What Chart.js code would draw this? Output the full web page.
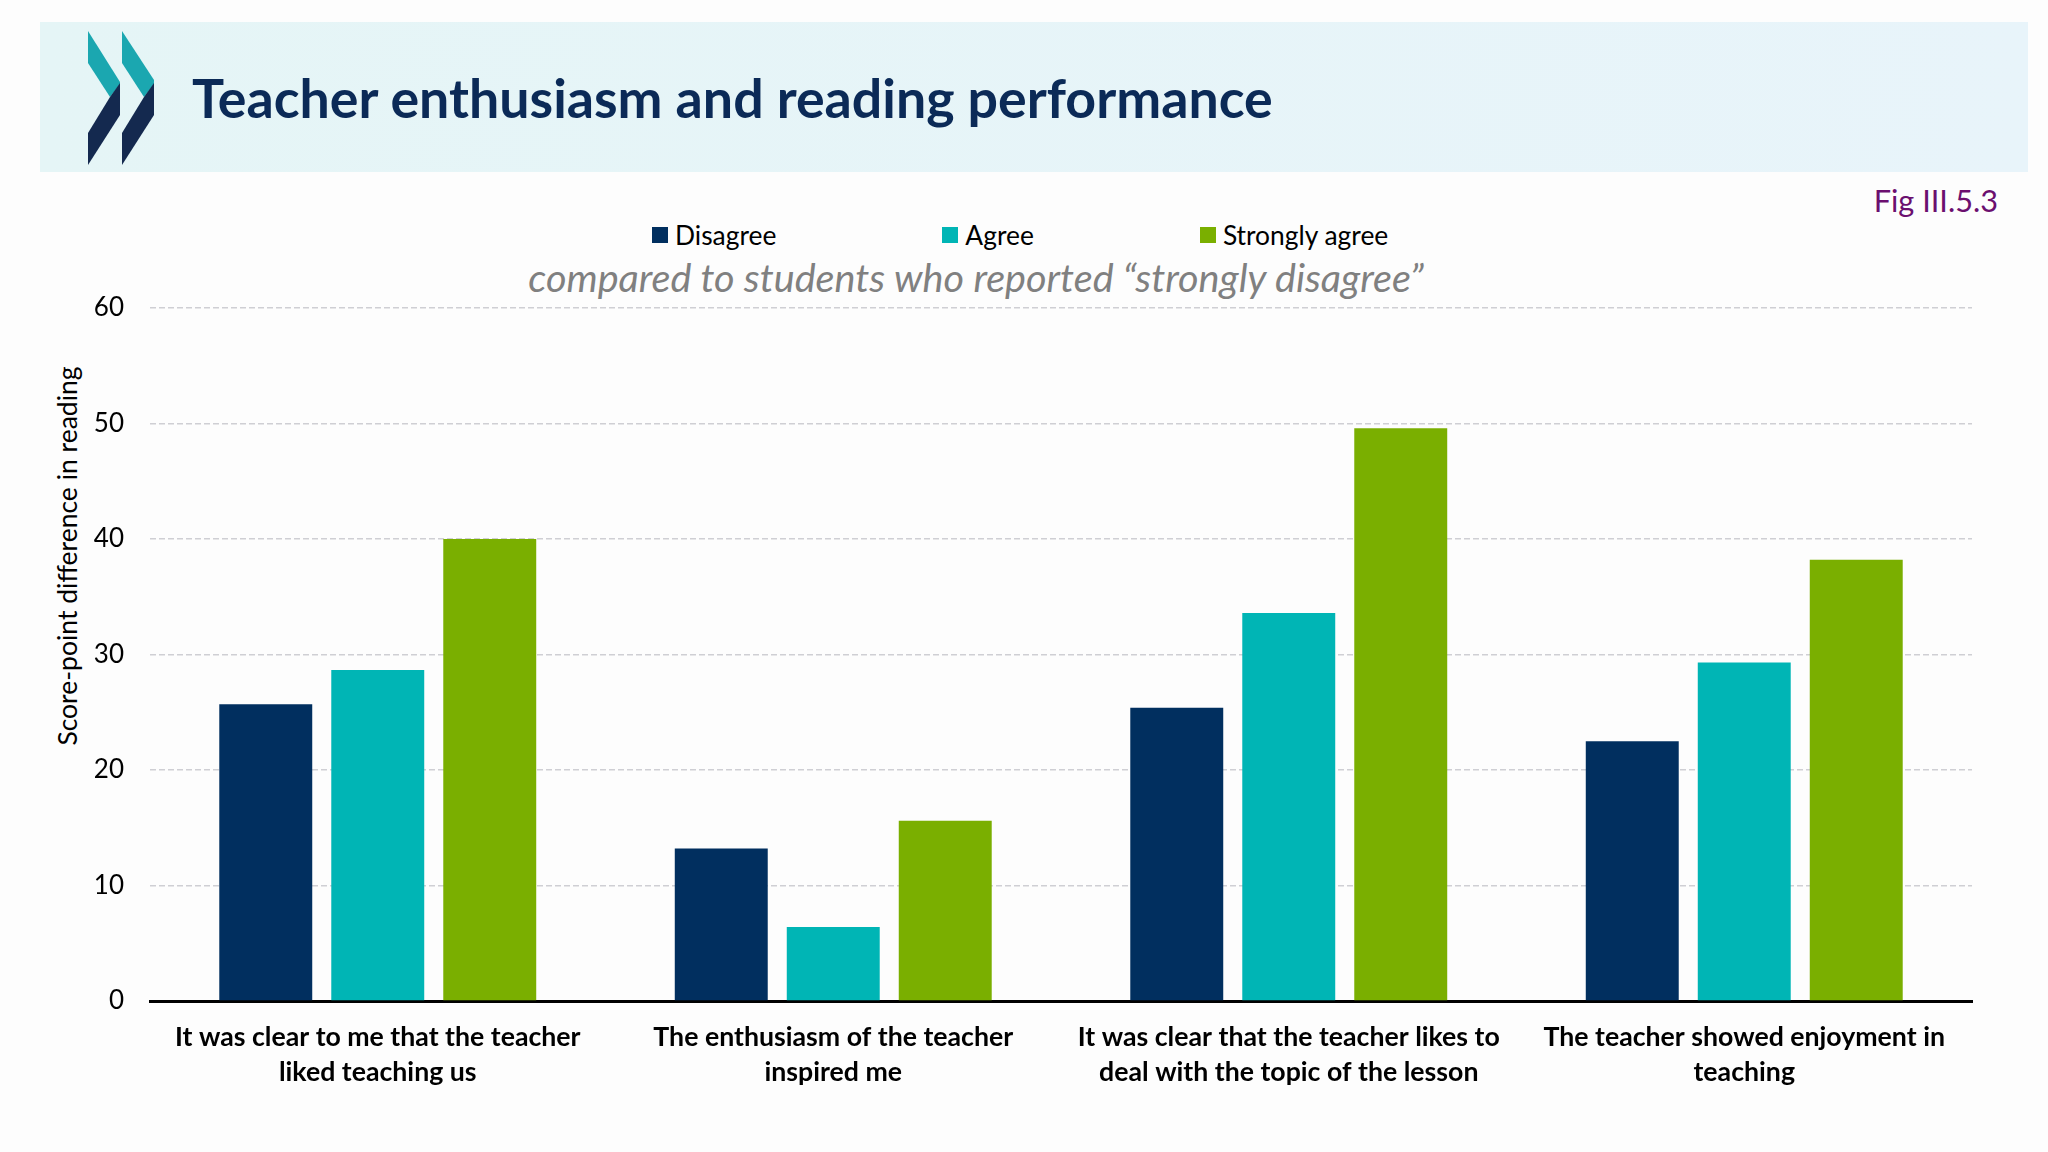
<!DOCTYPE html>
<html>
<head>
<meta charset="utf-8">
<title>Teacher enthusiasm and reading performance</title>
<script src="https://cdn.jsdelivr.net/npm/chart.js@4"></script>
<style>
  html, body { margin: 0; padding: 0; background: #fdfdfd; }
  body { width: 2048px; height: 1152px; position: relative; overflow: hidden; font-family: Lato, sans-serif; }
  canvas { position: absolute; left: 0; top: 0; }
  .band { position: absolute; left: 40px; top: 22px; width: 1988px; height: 150px;
          background: linear-gradient(90deg, #e5f5f6, #e8f4fa); }
  .logo { position: absolute; left: 0; top: 0; }
  .title { position: absolute; left: 192px; top: 65px; font-size: 53.7px; font-weight: 700; color: #0b2a57; white-space: nowrap; line-height: 64px; }
  .fig { position: absolute; right: 50px; top: 183px; font-size: 30.7px; color: #6b0f6f; line-height: 36px; }
  .legend { position: absolute; left: 652px; top: 220px; display: flex; gap: 166px; font-size: 26.4px; color: #000; line-height: 30px; white-space: nowrap; }
  .legend span { display: flex; align-items: center; }
  .legend i { width: 16px; height: 16px; margin-right: 7px; display: block; }
  .sub { position: absolute; left: 0; width: 1952px; top: 255px; text-align: center; font-size: 39.6px; font-style: italic; color: #808080; line-height: 44px; }
  .ytitle { position: absolute; left: 67px; top: 556px; font-size: 26.5px; color: #000; white-space: nowrap;
            transform: translate(-50%, -50%) rotate(-90deg); }
</style>
</head>
<body>
<div class="band"></div>
<svg class="logo" width="200" height="180">
  <polygon fill="#1ba7b0" points="88,31 120,82 120,84 110,97 88,63"/>
  <polygon fill="#14294f" points="120,83 120,115 88,165 88,133 110,97"/>
  <polygon fill="#1ba7b0" points="122,31 154,80 154,84 144,97 122,63"/>
  <polygon fill="#14294f" points="154,83 154,115 122,165 122,133 144,97"/>
</svg>
<div class="title">Teacher enthusiasm and reading performance</div>
<div class="fig">Fig III.5.3</div>
<div class="legend" id="legend"></div>
<div class="sub">compared to students who reported “strongly disagree”</div>
<div class="ytitle">Score-point difference in reading</div>
<canvas id="chart" width="2048" height="1152"></canvas>
<script>
// Values
var categories = [
  ["It was clear to me that the teacher", "liked teaching us"],
  ["The enthusiasm of the teacher", "inspired me"],
  ["It was clear that the teacher likes to", "deal with the topic of the lesson"],
  ["The teacher showed enjoyment in", "teaching"]
];
var disagree = [25.7, 13.2, 25.4, 22.5];
var agree = [28.65, 6.4, 33.6, 29.3];
var stronglyAgree = [40, 15.6, 49.6, 38.2];

var seriesNames = ["Disagree", "Agree", "Strongly agree"];
var seriesColors = ["#012f5f", "#00b5b5", "#7aaf00"];

function makeDataset(i, values) {
  return {
    label: seriesNames[i],
    data: values,
    backgroundColor: seriesColors[i],
    categoryPercentage: 0.7376,
    barPercentage: 0.83
  };
}

var chart = new Chart(document.getElementById('chart'), {
  type: 'bar',
  data: {
    labels: categories,
    datasets: [makeDataset(0, disagree), makeDataset(1, agree), makeDataset(2, stronglyAgree)]
  },
  options: {
    responsive: false,
    animation: false,
    devicePixelRatio: 1,
    layout: { padding: { left: 0, right: 76, top: 308, bottom: 51 } },
    plugins: { legend: { display: false }, tooltip: { enabled: false } },
    scales: {
      x: {
        grid: { display: false },
        border: { color: '#000', width: 3 },
        ticks: {
          color: '#000',
          font: { family: 'Lato', size: 26.7, weight: '700', lineHeight: 1.31 },
          maxRotation: 0,
          autoSkip: false,
          padding: 11
        }
      },
      y: {
        min: 0,
        max: 60,
        afterFit: function(scale) { scale.width = 150; },
        grid: { color: '#cfcfd4', lineWidth: 1.5, drawTicks: false },
        border: { display: false, dash: [6, 3] },
        ticks: {
          stepSize: 10,
          color: '#000',
          font: { family: 'Lato', size: 26 },
          padding: 26
        }
      }
    }
  }
});

// legend is built from the datasets, spaced wider than the built in one allows
var legendBox = document.getElementById('legend');
chart.data.datasets.forEach(function(ds) {
  var item = document.createElement('span');
  var swatch = document.createElement('i');
  swatch.style.background = ds.backgroundColor;
  item.appendChild(swatch);
  item.appendChild(document.createTextNode(ds.label));
  legendBox.appendChild(item);
});
</script>
</body>
</html>
